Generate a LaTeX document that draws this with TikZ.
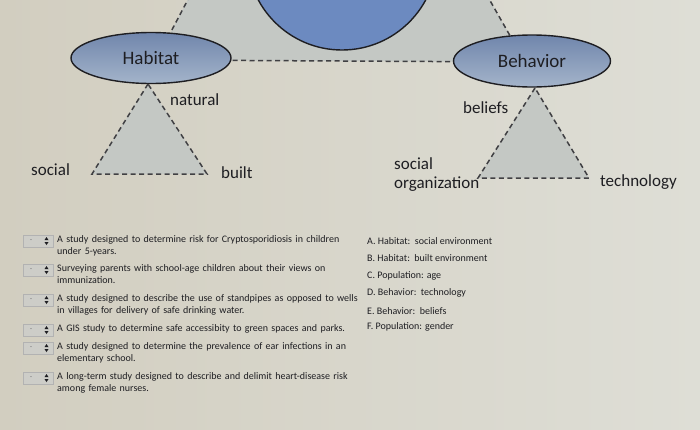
\documentclass[tikz,border=0pt]{standalone}
\usepackage{fontspec}
\setmainfont{Carlito}
\usetikzlibrary{shapes.geometric}
\definecolor{bgA}{RGB}{210,206,192}
\definecolor{bgM}{RGB}{238,238,232}
\definecolor{bgB}{RGB}{222,222,214}
\definecolor{trifill}{RGB}{196,200,196}
\definecolor{ellA}{RGB}{112,134,172}
\definecolor{ellB}{RGB}{164,180,202}
\definecolor{circblue}{RGB}{108,138,192}
\definecolor{ink}{RGB}{30,30,34}
\definecolor{boxgrey}{RGB}{205,205,200}
\tikzset{
  dashedge/.style={draw=ink!85, dash pattern=on 5pt off 3.5pt, line width=1.5pt},
  ovalnode/.style={ellipse, draw=ink, line width=1.4pt, top color=ellA, bottom color=ellB,
    minimum width=160pt, minimum height=51pt, font=\fontsize{19}{21}\selectfont, text=ink},
  lbl/.style={font=\fontsize{17}{19}\selectfont, text=ink, inner sep=0pt},
  itemtxt/.style={font=\fontsize{10}{12}\selectfont, text=ink, anchor=north west, inner sep=0pt, align=left, text width=320pt},
  anstxt/.style={font=\fontsize{10}{11}\selectfont, text=ink, anchor=west, inner sep=0pt},
  ddbox/.style={draw=gray!60, fill=boxgrey, minimum width=30pt, minimum height=12pt, inner sep=0pt},
}
\begin{document}
\begin{tikzpicture}[x=1pt,y=-1pt]
\useasboundingbox (0,0) rectangle (700,429);
\begin{scope}
\clip (0,0) rectangle (700,429);
\shade[left color=bgA, middle color=bgM, right color=bgB] (0,0) rectangle (700,429);
% big triangle
\coordinate (apex) at (333,-275);
\coordinate (hv) at (156,60);
\coordinate (bv) at (525,62);
\fill[trifill] (apex) -- (hv) -- (bv) -- cycle;
\draw[dashedge] (hv) -- (apex) -- (bv);
\draw[dashedge] (hv) -- (bv);
% circle
\node[circle, draw=ink, line width=1.4pt, fill=circblue, minimum size=190pt, inner sep=0pt] (pop) at (342,-45) {};
\end{scope}
% ellipses
\node[ovalnode] (habitat) at (151,58) {Habitat};
\node[ovalnode, minimum width=157pt, minimum height=52pt] (behavior) at (532,61) {Behavior};
% left triangle
\coordinate (la) at (148,84);
\coordinate (ll) at (92,174);
\coordinate (lr) at (207,174);
\fill[trifill] (la) -- (ll) -- (lr) -- cycle;
\draw[dashedge] (la) -- (ll) -- (lr) -- cycle;
\node[lbl, anchor=west] (natural) at (170,100) {natural};
\node[lbl, anchor=west] (social) at (31,170) {social};
\node[lbl, anchor=west] (built) at (221,173) {built};
% right triangle
\coordinate (ra) at (535,88);
\coordinate (rl) at (478,178);
\coordinate (rr) at (589,178);
\fill[trifill] (ra) -- (rl) -- (rr) -- cycle;
\draw[dashedge] (ra) -- (rl) -- (rr) -- cycle;
\node[lbl, anchor=west] (beliefs) at (463,108) {beliefs};
\node[lbl, anchor=north west, align=left] (socorg) at (394,157) {social\\[0pt]organization};
\node[lbl, anchor=west] (tech) at (600,182) {technology};
% items
\foreach \y/\t [count=\i] in {
  235/{A study designed to determine risk for Cryptosporidiosis in children\\under 5-years.},
  264/{Surveying parents with school-age children about their views on\\immunization.},
  294/{A study designed to describe the use of standpipes as opposed to wells\\in villages for delivery of safe drinking water.},
  324/{A GIS study to determine safe accessibity to green spaces and parks.},
  342/{A study designed to determine the prevalence of ear infections in an\\elementary school.},
  372/{A long-term study designed to describe and delimit heart-disease risk\\among female nurses.}} {
  \node[ddbox] (box\i) at (38,\y+6) {};
  \node[font=\fontsize{8}{8}\selectfont, text=gray] (dash\i) at (31,\y+6) {-};
  \fill[ink] (44.5,\y+5) -- (46.5,\y+2) -- (48.5,\y+5) -- cycle;
  \fill[ink] (44.5,\y+7) -- (46.5,\y+10) -- (48.5,\y+7) -- cycle;
  \node[itemtxt] (item\i) at (57,\y) {\t};
}
% answers
\node[anstxt] (ansA) at (367,241) {A. Habitat:\ \ social environment};
\node[anstxt] (ansB) at (367,258) {B. Habitat:\ \ built environment};
\node[anstxt] (ansC) at (367,276) {C. Population: age};
\node[anstxt] (ansD) at (367,293) {D. Behavior:\ \ technology};
\node[anstxt] (ansE) at (367,311) {E. Behavior:\ \ beliefs};
\node[anstxt] (ansF) at (367,327) {F. Population: gender};
\end{tikzpicture}
\end{document}
